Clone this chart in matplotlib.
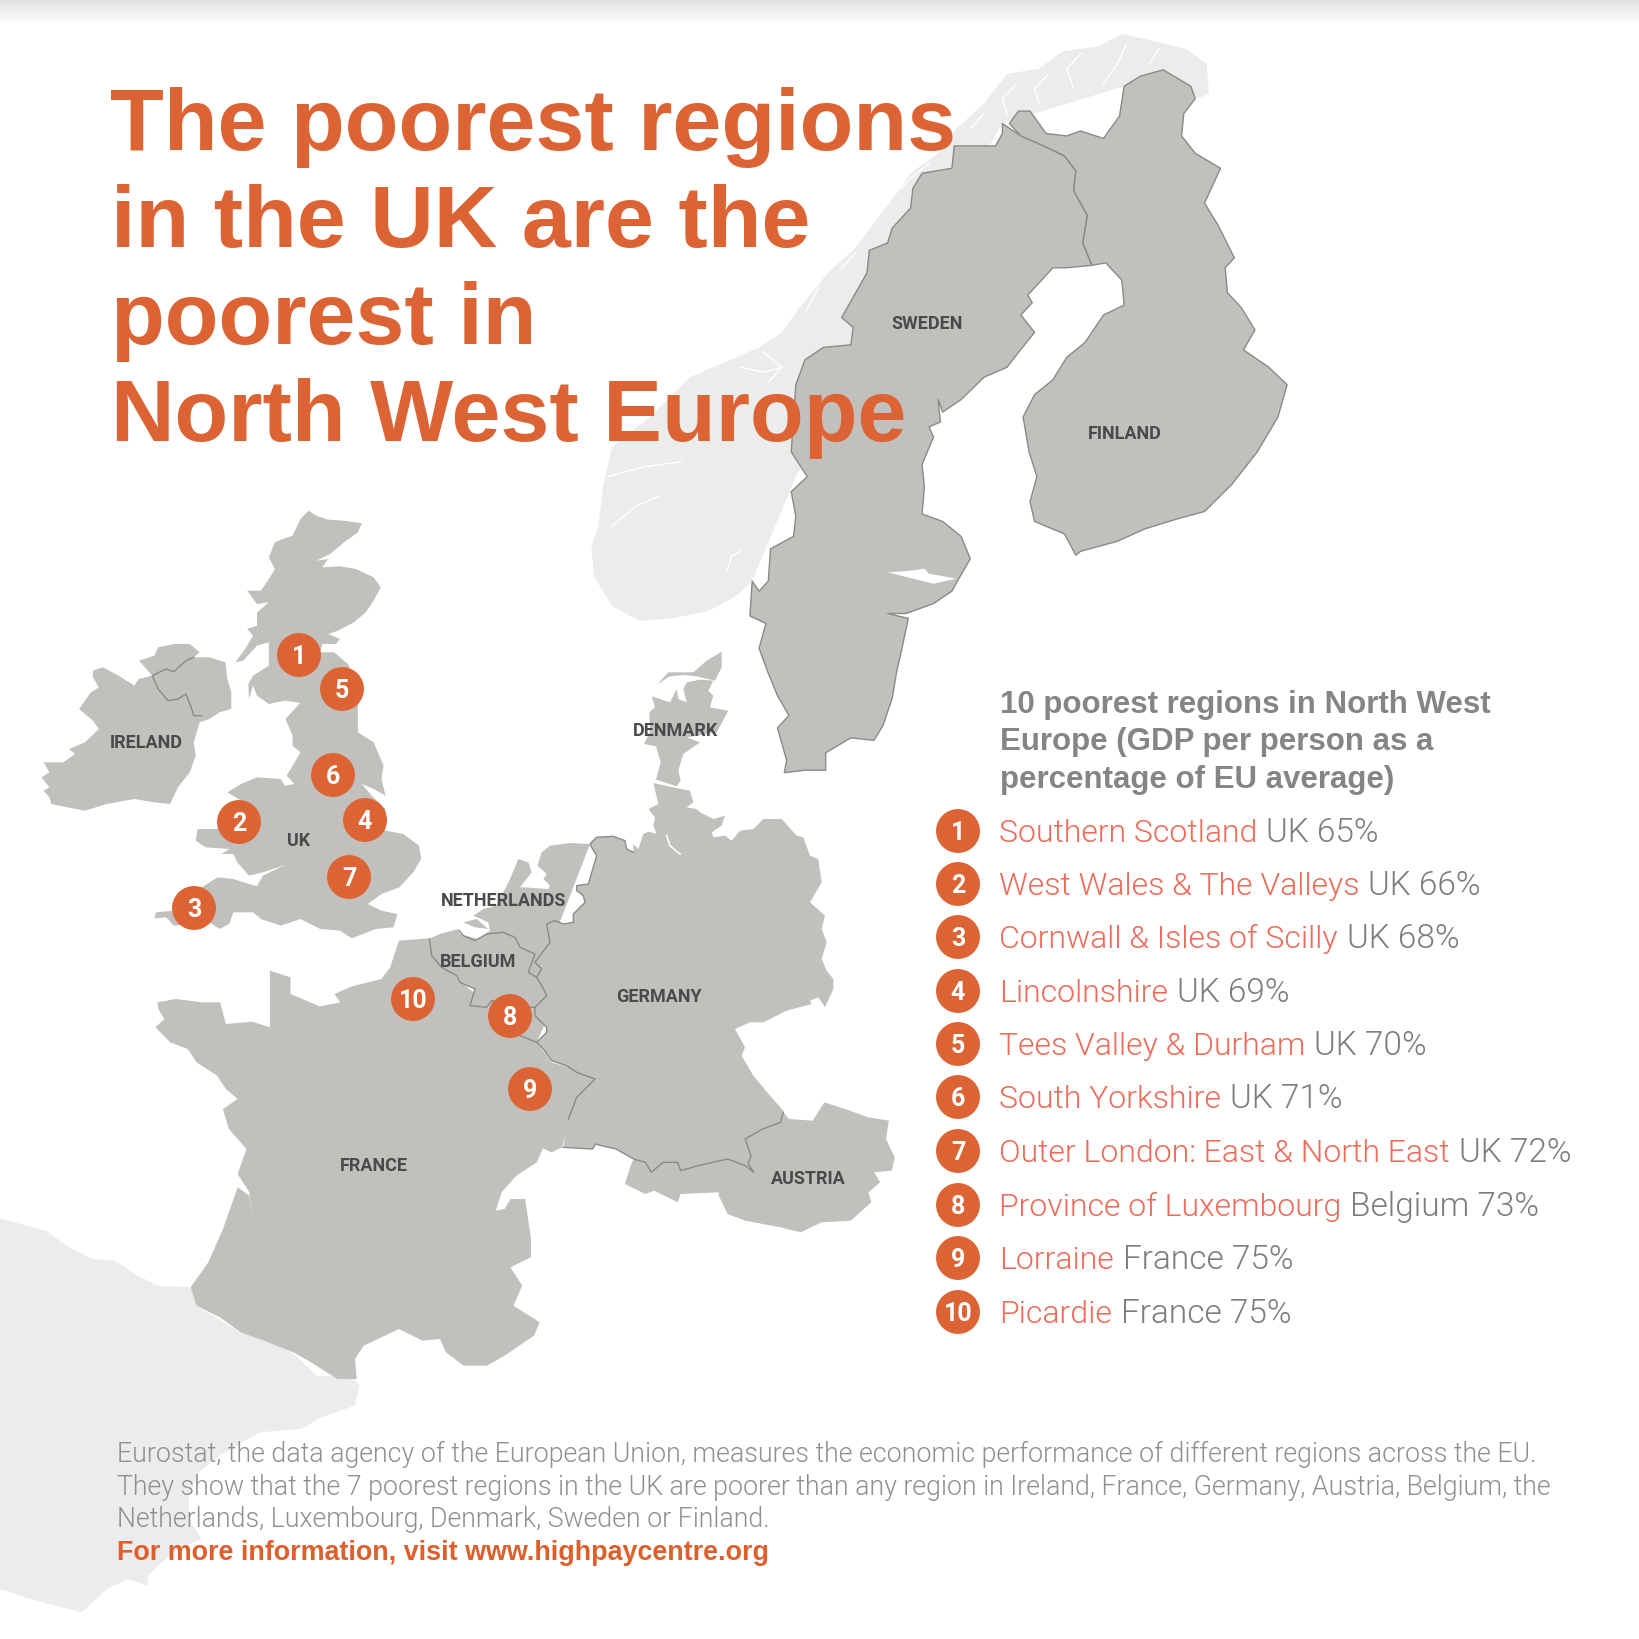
#!/usr/bin/python3

import numpy as np
import matplotlib
matplotlib.use("Agg")
import matplotlib.pyplot as plt
from matplotlib.patches import Polygon

ORANGE = "#dc6333"
SALMON = "#ee6a58"
LAND = "#c1c0bc"
FAINT = "#ececec"
EDGE = "#8a8a87"
DARK = "#4a4a4a"

CROP_UK = (0, 480, 620, 520)
CROP_FR = (0, 900, 920, 520)
CROP_NORTH = (580, 30, 720, 780)
CROP_DE = (420, 640, 500, 480)
CROP_ES = (0, 1180, 800, 460)

britain = [(780,95),(800,110),(830,122),(870,125),(915,133),(905,160),(870,190),(835,225),(800,245),(830,240),(815,265),(860,262),(900,270),(945,295),(963,325),(945,365),(925,400),(895,430),(855,455),(830,465),(860,480),(850,495),(815,495),(810,520),(845,520),(880,555),(905,620),(905,700),(905,760),(945,790),(970,860),(965,900),(975,950),(945,930),(915,915),(940,950),(975,990),(975,1055),(1020,1065),(1060,1100),(1065,1140),(1045,1180),(1010,1225),(965,1245),(930,1275),(965,1295),(1005,1305),(995,1345),(950,1350),(890,1378),(860,1355),(810,1350),(760,1320),(710,1340),(660,1320),(640,1300),(590,1300),(580,1335),(555,1350),(530,1330),(440,1340),(420,1315),(390,1318),(395,1300),(440,1295),(490,1240),(550,1195),(590,1200),(650,1222),(665,1190),(720,1158),(665,1180),(630,1190),(600,1150),(590,1125),(560,1125),(580,1110),(520,1105),(495,1085),(500,1050),(550,1050),(590,1005),(610,965),(575,940),(610,915),(650,895),(710,900),(720,920),(745,915),(725,890),(740,860),(760,820),(740,800),(740,770),(722,720),(745,690),(765,665),(780,675),(720,665),(680,675),(650,650),(640,620),(630,660),(628,615),(640,590),(680,560),(680,490),(650,500),(615,545),(595,550),(620,510),(640,470),(625,450),(650,440),(650,400),(680,370),(650,375),(625,335),(660,335),(680,300),(695,270),(680,235),(695,190),(715,180),(740,170),(760,120)]
ireland = [(235,575),(260,565),(300,590),(340,620),(350,600),(385,590),(370,570),(352,545),(390,530),(400,505),(440,495),(480,495),(505,520),(490,535),(530,535),(570,550),(575,600),(585,640),(585,690),(555,700),(530,720),(505,730),(490,790),(495,830),(480,880),(450,925),(430,975),(390,970),(340,960),(270,975),(215,995),(170,985),(130,975),(125,955),(110,935),(125,925),(105,895),(125,880),(110,850),(160,850),(190,825),(175,810),(215,790),(250,750),(235,725),(200,690),(230,640),(250,625),(235,595)]
ni_border = [(490,535),(470,545),(440,578),(420,570),(385,590),(400,630),(425,665),(450,660),(470,645),(485,690),(490,710),(510,710)]

france = [(268,310),(300,300),(345,310),(375,310),(385,375),(430,368),(460,385),(460,215),(495,235),(495,285),(545,322),(580,310),(570,285),(600,262),(650,240),(665,205),(680,125),(730,118),(745,170),(770,220),(790,255),(810,285),(800,320),(835,325),(870,400),(915,430),(940,490),(980,510),(1015,540),(990,600),(968,680),(958,745),(940,760),(925,748),(915,790),(880,830),(855,880),(845,935),(860,930),(870,900),(895,900),(900,960),(905,1020),(905,1075),(870,1105),(890,1160),(875,1220),(920,1270),(910,1310),(860,1370),(830,1400),(790,1400),(760,1360),(750,1320),(720,1325),(680,1290),(620,1340),(605,1380),(608,1440),(575,1440),(530,1390),(500,1360),(450,1325),(410,1300),(375,1255),(335,1220),(325,1165),(355,1090),(380,990),(405,865),(425,890),(430,970),(425,880),(405,825),(420,750),(390,690),(380,630),(405,600),(385,570),(370,530),(335,490),(320,450),(290,430),(265,385),(280,360),(270,330)]

germany_north = [(700,432),(760,445),(810,455),(820,490),(800,505),(830,510),(840,520),(880,540),(915,530),(905,560),(875,580),(880,595),(915,590),(935,605),(960,575),(1000,570),(1030,540),(1085,540),(1130,590),(1150,595),(1170,650),(1195,660),(1205,730),(1170,790),(1215,830),(1205,870),(1220,910),(1205,960),(1220,995),(1240,1020),(1240,1050),(1215,1105),(1195,1075),(1170,1085),(1175,1095),(1100,1115),(1030,1150),(990,1150),(945,1170),(975,1225),(965,1250),(1000,1310),(1050,1370),(1090,1415)]
germany_south = [(1335,640),(1330,670),(1300,690),(1270,720),(1280,770),(1275,795),(1285,820),(1270,800),(1240,780),(1190,800),(1160,815),(1155,790),(1130,790),(1110,820),(1100,790),(1080,780),(1050,750),(1025,740),(1015,735),(1010,750),(960,745)]
germany_west = [(445,1440),(470,1375),(525,1320),(470,1300),(440,1280),(395,1265),(370,1230),(350,1210),(380,1180),(380,1165),(345,1130),(345,1105),(380,1070),(365,1040),(350,1015),(365,990),(345,970),(390,910),(380,855),(405,845),(430,855),(460,850),(460,825),(495,790),(490,770),(470,755),(470,740),(505,735),(530,650),(515,625),(510,615),(530,595),(580,592),(615,605),(620,630),(640,640),(640,615),(655,630),(670,585),(685,578),(710,585),(700,560),(705,535),(685,510),(715,495)]

benelux = [(510,615),(450,612),(390,620),(365,640),(352,680),(380,705),(370,720),(390,740),(385,750),(310,745),(300,745),(335,700),(325,670),(295,660),(270,720),(250,760),(230,800),(190,810),(160,830),(205,850),(210,875),(175,900),(120,885),(115,870),(60,885),(25,900),(35,950),(65,985),(110,1010),(120,1030),(165,1050),(150,1100),(200,1105),(300,1190),(350,1210),(400,1100),(400,900)]
zeeland = [(130,850),(170,840),(205,870),(165,865)]
be_nl_border = [(118,875),(130,890),(165,905),(200,885),(250,880),(285,895),(300,925),(345,945),(325,1000),(350,1015)]
be_fr_border = [(28,900),(35,950),(65,985),(110,1010),(120,1030),(165,1050),(150,1100),(200,1105),(215,1085),(300,1190),(350,1210)]
lux_border = [(215,1085),(300,1105),(345,1105)]

austria = [(1335,640),(1345,660),(1385,665),(1405,610),(1440,630),(1480,655),(1515,665),(1510,720),(1525,775),(1520,815),(1490,820),(1500,850),(1480,880),(1485,910),(1450,965),(1400,970),(1365,1000),(1330,985),(1270,965),(1240,945),(1225,890),(1225,880),(1160,885),(1155,910),(1115,875),(1100,885),(1065,855),(1075,800),(1080,780),(1100,790),(1110,820),(1130,790),(1155,790),(1160,815),(1190,800),(1240,780),(1270,800),(1285,820),(1275,795),(1280,770),(1270,720),(1300,690),(1330,670)]

denmark_north = [(905,38),(860,65),(820,100),(785,100),(745,100),(713,135),(750,112),(790,108),(830,112),(885,125),(905,85)]
denmark_main = [(800,130),(790,150),(800,190),(775,180),(770,150),(750,190),(695,172),(705,205),(688,220),(690,280),(672,315),(708,322),(722,370),(708,422),(770,442),(782,425),(775,395),(790,345),(840,310),(800,295),(890,280),(925,215),(870,205),(880,170),(865,155),(880,125),(840,122)]

sweden = [(920,190),(960,215),(1010,235),(1055,255),(1080,285),(1075,325),(1105,375),(1095,430),(1115,475),(1060,480),(1030,480),(1000,510),(975,535),(985,550),(960,575),(990,610),(955,650),(930,680),(880,700),(830,745),(790,770),(780,745),(785,790),(760,800),(770,820),(745,875),(750,920),(745,975),(790,990),(830,1020),(850,1065),(825,1105),(810,1130),(770,1155),(710,1175),(670,1175),(715,1185),(700,1250),(690,1290),(680,1345),(660,1400),(640,1430),(590,1425),(535,1455),(535,1490),(490,1490),(445,1495),(450,1470),(430,1405),(455,1380),(430,1340),(410,1295),(390,1245),(405,1195),(370,1180),(375,1110),(390,1130),(410,1110),(415,1045),(465,1020),(470,980),(460,930),(495,900),(460,850),(470,715),(490,665),(530,640),(590,635),(595,600),(570,580),(625,490),(630,445),(670,430),(680,400),(720,360),(725,320),(745,290),(810,280),(815,235),(870,235),(905,235),(920,210)]
swedish_lakes = [(670,1092),(710,1090),(750,1085),(760,1095),(820,1105),(770,1115),(725,1105)]
finland = [(935,190),(955,165),(980,165),(1015,210),(1060,215),(1090,205),(1140,220),(1175,175),(1185,115),(1220,95),(1270,82),(1330,115),(1340,140),(1315,170),(1310,215),(1340,250),(1395,280),(1360,350),(1390,395),(1425,460),(1405,480),(1410,530),(1440,560),(1470,605),(1445,645),(1500,680),(1540,715),(1520,780),(1475,850),(1420,915),(1360,970),(1300,985),(1230,1005),(1170,1030),(1090,1050),(1080,1058),(1055,1015),(990,990),(980,950),(995,900),(978,850),(965,780),(990,735),(1030,705),(1060,660),(1100,630),(1140,575),(1185,555),(1180,505),(1145,470),(1115,475),(1095,430),(1105,375),(1075,325),(1080,285),(1055,255),(1010,235),(960,215)]
norway = [(1365,70),(1320,40),(1230,20),(1180,10),(1130,35),(1050,45),(1000,80),(930,90),(880,150),(820,200),(780,250),(720,290),(690,330),(640,390),(600,440),(540,490),(470,570),(440,610),(390,640),(340,660),(240,700),(140,790),(70,840),(50,920),(40,1000),(25,1040),(30,1100),(70,1160),(130,1190),(200,1185),(280,1170),(340,1140),(375,1110),(470,900),(920,190),(1185,115),(1270,82),(1345,140),(1370,130)]
fjords = [[(1190,30),(1170,70),(1140,110)],[(1090,50),(1060,80),(1075,120)],[(950,110),(920,140),(930,170)],[(1260,40),(1240,70)],[(1020,90),(990,120),(1000,150)],[(880,170),(850,200)],[(760,270),(720,300),(700,320)],[(600,450),(570,480)],[(520,520),(490,570)],[(400,650),(440,680),(410,710)],[(60,900),(140,880),(220,870)],[(70,1000),(120,960),(170,940)],[(320,1090),(330,1060),(350,1050)],[(350,680),(400,690),(440,680)]]
spain = [(0,118),(40,135),(90,155),(130,200),(180,240),(225,245),(270,290),(310,320),(370,325),(395,360),(385,380),(470,460),(530,480),(580,530),(620,590),(690,595),(705,620),(695,680),(630,715),(590,750),(510,760),(480,785),(430,830),(390,880),(370,950),(370,1020),(395,1080),(350,1110),(310,1160),(290,1190),(290,1220),(250,1200),(210,1230),(160,1300),(120,1285),(60,1260),(0,1230)]

regions = ["Southern Scotland", "West Wales & The Valleys", "Cornwall & Isles of Scilly",
           "Lincolnshire", "Tees Valley & Durham", "South Yorkshire",
           "Outer London: East & North East", "Province of Luxembourg", "Lorraine", "Picardie"]
countries = ["UK", "UK", "UK", "UK", "UK", "UK", "UK", "Belgium", "France", "France"]
gdp_pct = [65, 66, 68, 69, 70, 71, 72, 73, 75, 75]
marker_x = [299, 239, 194, 365, 342, 333, 349, 510, 530, 413]
marker_y = [656, 823, 909, 821, 690, 776, 878, 1017, 1090, 1000]

country_names = ["SWEDEN", "FINLAND", "DENMARK", "IRELAND", "UK", "NETHERLANDS", "BELGIUM", "GERMANY", "FRANCE", "AUSTRIA"]
country_x = [927, 1125, 676, 146, 299, 504, 478, 659, 374, 808]
country_y = [324, 434, 731, 743, 841, 901, 962, 997, 1166, 1179]

title_lines = ["The poorest regions", "in the UK are the", "poorest in", "North West Europe"]
title_x = [110, 111, 111, 111]
title_y = [150, 247, 344, 441]
heading_lines = ["10 poorest regions in North West", "Europe (GDP per person as a", "percentage of EU average)"]
footer_lines = ["Eurostat, the data agency of the European Union, measures the economic performance of different regions across the EU.",
                "They show that the 7 poorest regions in the UK are poorer than any region in Ireland, France, Germany, Austria, Belgium, the",
                "Netherlands, Luxembourg, Denmark, Sweden or Finland."]
footer_link = "For more information, visit www.highpaycentre.org"


def from_crop(points, crop):
    # crop reading -> picture pixels
    x0, y0, w, h = crop
    pts = np.array(points, dtype=float)
    pts[:, 0] = x0 + pts[:, 0] / min(3, 1568 / w)
    pts[:, 1] = y0 + pts[:, 1] / min(3, 1568 / h)
    return pts


def land(ax, pts, color=LAND, edge="none", lw=0, z=2):
    ax.add_patch(Polygon(pts, closed=True, facecolor=color, edgecolor=edge, linewidth=lw, joinstyle="round", zorder=z))


def border(ax, pts, z=4, color=EDGE, lw=1.0):
    ax.plot(pts[:, 0], pts[:, 1], color=color, linewidth=lw, solid_joinstyle="round", zorder=z)


plt.rcParams["font.family"] = ["Liberation Sans", "DejaVu Sans"]
fig = plt.figure(figsize=(16.4, 16.4), dpi=100)
ax = fig.add_axes([0, 0, 1, 1])
ax.axis("off")

# grey fade along the top edge
fade = np.linspace(0.88, 1.0, 26).reshape(-1, 1)
ax.imshow(fade, cmap="gray", vmin=0, vmax=1, extent=(0, 1640, 26, 0), aspect="auto", zorder=0)
ax.set_xlim(0, 1640)
ax.set_ylim(1640, 0)

land(ax, from_crop(norway, CROP_NORTH), FAINT, z=1)
for f in fjords:
    border(ax, from_crop(f, CROP_NORTH), z=1.5, color="white", lw=1.0)
land(ax, from_crop(spain, CROP_ES), FAINT, z=1)

land(ax, from_crop(britain, CROP_UK))
land(ax, from_crop(ireland, CROP_UK))
border(ax, from_crop(ni_border, CROP_UK))
land(ax, from_crop(france, CROP_FR))
land(ax, from_crop(benelux, CROP_DE))
land(ax, from_crop(zeeland, CROP_DE))
germany = np.vstack([from_crop(germany_north, CROP_DE), from_crop(germany_south, CROP_FR), from_crop(germany_west, CROP_DE)])
land(ax, germany)
land(ax, from_crop(austria, CROP_FR))
land(ax, from_crop(denmark_north, CROP_DE))
land(ax, from_crop(denmark_main, CROP_DE))
border(ax, from_crop(germany_west[:36], CROP_DE))
border(ax, from_crop(germany_south, CROP_FR))
border(ax, from_crop(be_nl_border, CROP_DE))
border(ax, from_crop(be_fr_border, CROP_DE))
border(ax, from_crop(lux_border, CROP_DE))
border(ax, from_crop([(740,590),(750,620),(780,645)], CROP_DE), color="white", lw=1.2)

land(ax, from_crop(sweden, CROP_NORTH), edge=EDGE, lw=1.0, z=3)
land(ax, from_crop(finland, CROP_NORTH), edge=EDGE, lw=1.0, z=3)
land(ax, from_crop(swedish_lakes, CROP_NORTH), "white", z=3.5)

for name, x, y in zip(country_names, country_x, country_y):
    ax.text(x, y, name, family="Roboto", weight="bold",
            fontsize=13, color=DARK, ha="center", va="center", zorder=5)

# numbered markers on the map and down the list
list_y = [832, 885, 938, 992, 1045, 1098, 1152, 1206, 1259, 1313]
ax.scatter(marker_x, marker_y, s=1000, color=ORANGE, edgecolors="none", zorder=6)
ax.scatter([958] * len(list_y), list_y, s=1000, color=ORANGE, edgecolors="none", zorder=6)
for i in range(len(regions)):
    for x, y in [(marker_x[i], marker_y[i]), (958, list_y[i])]:
        ax.text(x, y + 1, str(i + 1), family="Roboto", weight="bold",
                fontsize=18, color="white", ha="center", va="center", zorder=7)

for line, x, y in zip(title_lines, title_x, title_y):
    ax.text(x, y, line, fontsize=63.4, weight="bold", color=ORANGE, ha="left", va="baseline", zorder=8)

for line, y in zip(heading_lines, [713, 750, 788]):
    ax.text(1000, y, line, fontsize=22.5, weight="bold", color="#858585", ha="left", va="baseline", zorder=8)

renderer = fig.canvas.get_renderer()
for name, country, pct, y in zip(regions, countries, gdp_pct, list_y):
    t = ax.text(999, y + 10, name, family="Roboto", weight=300, fontsize=23, color=SALMON, ha="left", va="baseline", zorder=8)
    right = t.get_window_extent(renderer).x1
    ax.text(right + 9, y + 10, f"{country} {pct}%", family="Roboto", weight=300, fontsize=24, color="#7d7d7d", ha="left", va="baseline", zorder=8)

for line, y in zip(footer_lines, [1462, 1495, 1527]):
    ax.text(117, y, line, family="Roboto", weight=300, fontsize=19.25, color="#8f8f8f", ha="left", va="baseline", zorder=8)
ax.text(117, 1560, footer_link, fontsize=19.35, weight="bold", color="#dc5f2c", ha="left", va="baseline", zorder=8)

fig.savefig("out.png", dpi=100, facecolor="white")
